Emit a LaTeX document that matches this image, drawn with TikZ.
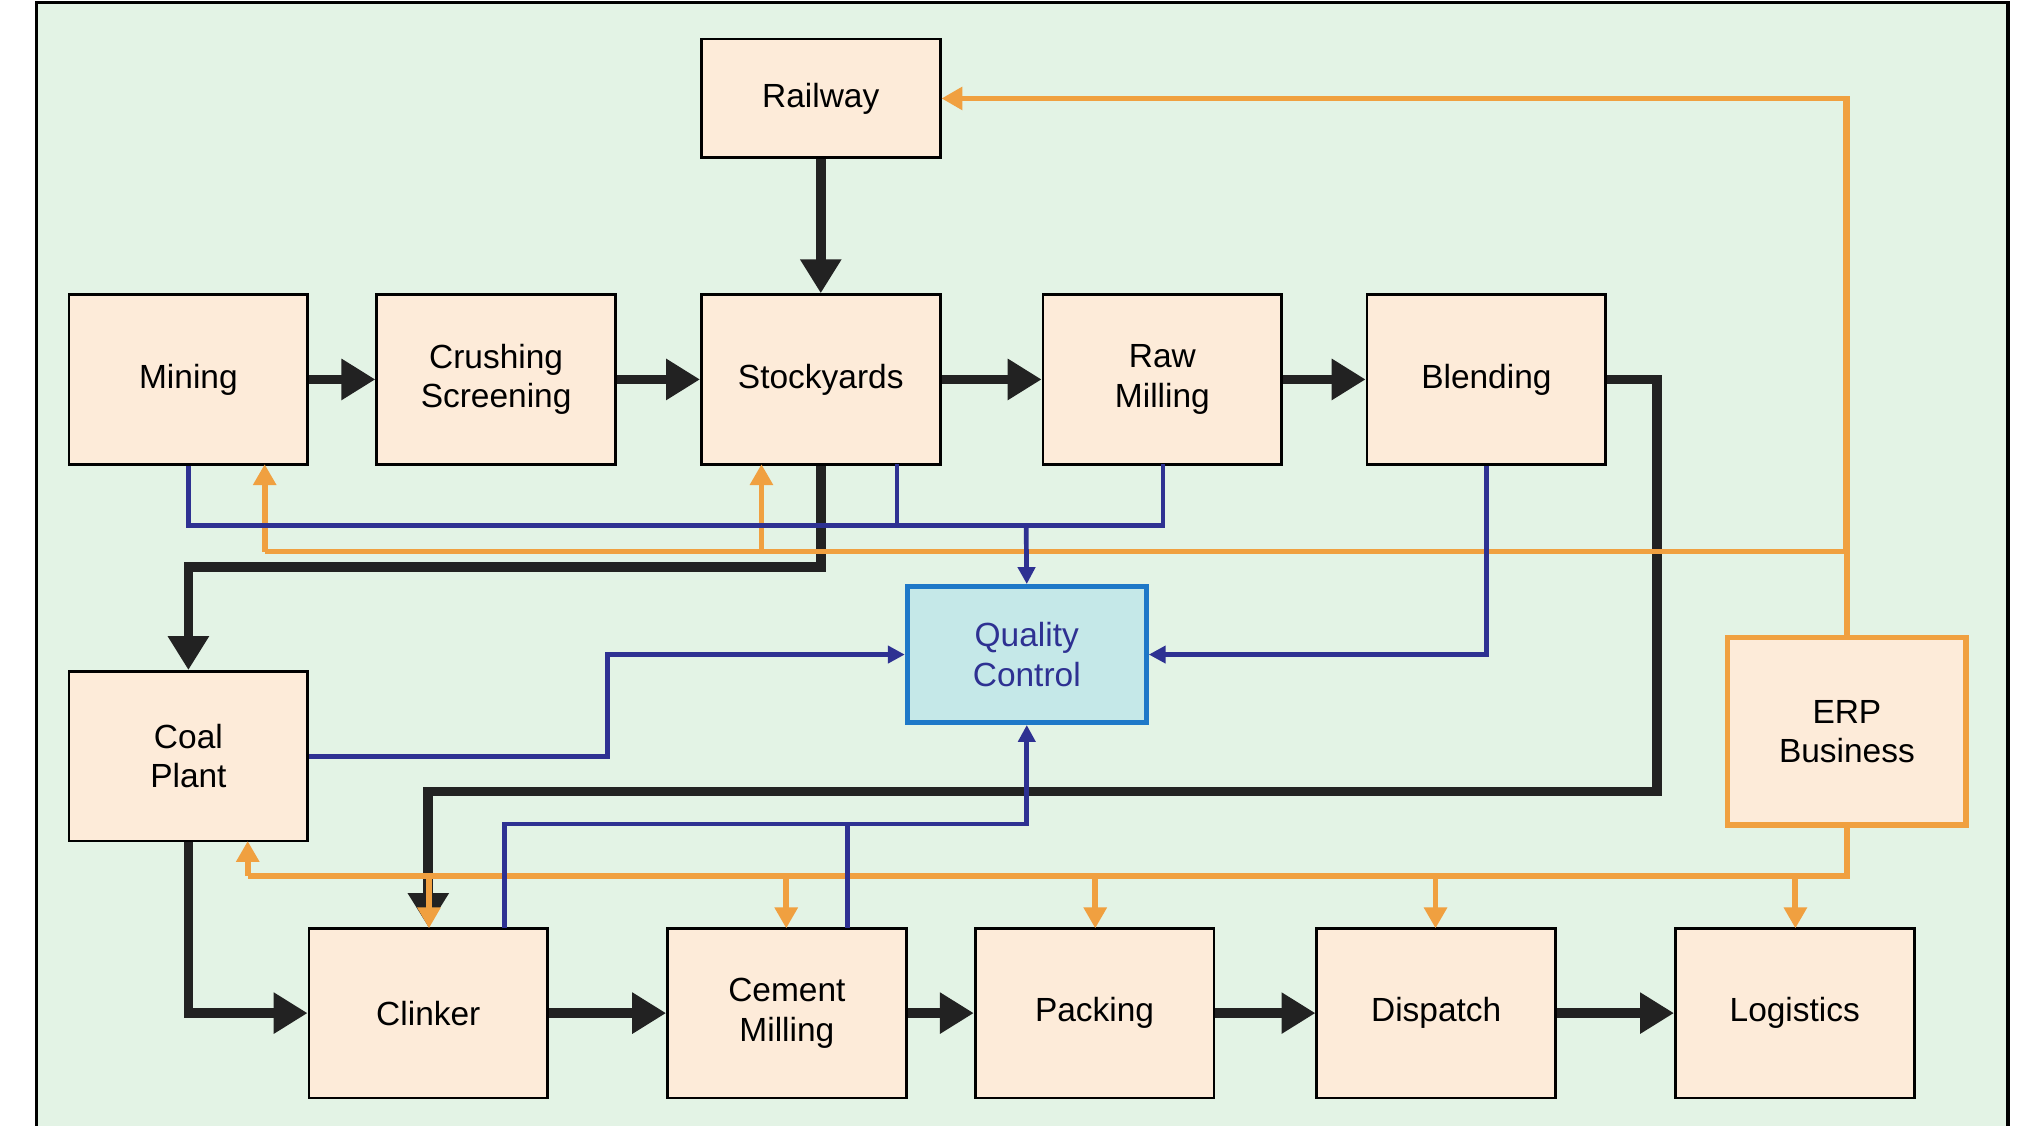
\documentclass[tikz,border=0pt]{standalone}
\usepackage{fontspec}
\setmainfont{Liberation Sans}
\usetikzlibrary{arrows.meta}
\definecolor{bg}{HTML}{E3F3E5}
\definecolor{boxf}{HTML}{FDEBD9}
\definecolor{qcf}{HTML}{C5E8E8}
\definecolor{qcb}{HTML}{1E78C8}
\definecolor{org}{HTML}{F0A040}
\definecolor{blu}{HTML}{2E3192}
\definecolor{blk}{HTML}{222222}
\begin{document}
\begin{tikzpicture}[x=0.01cm,y=-0.01cm,
  box/.style={draw=black,line width=0.6pt,fill=boxf,minimum width=1.83cm,minimum height=1.3cm,align=center,font=\fontsize{7.3}{8.6}\selectfont,inner sep=0pt},
  blkl/.style={draw=blk,line width=0.075cm,-{Triangle[length=2.6mm,width=3mm]}},
  blkn/.style={draw=blk,line width=0.075cm},
  blul/.style={draw=blu,line width=0.036cm,-{Triangle[length=1.3mm,width=1.3mm]}},
  blun/.style={draw=blu,line width=0.036cm},
  orgl/.style={draw=org,line width=0.045cm,-{Triangle[length=1.6mm,width=1.7mm]}},
  orgn/.style={draw=org,line width=0.045cm}]
\useasboundingbox (0,0) rectangle (1560,863);
\fill[white] (0,0) rectangle (1560,863);
\draw[fill=bg,line width=0.8pt] (28,2) rectangle (1540,880);
\node[box,minimum height=0.91cm] (rail) at (629.5,75.5) {Railway};
\node[box] (mine) at (144.5,291) {Mining};
\node[box] (crush) at (380.5,291) {Crushing\\Screening};
\node[box] (stock) at (629.5,291) {Stockyards};
\node[box] (raw) at (891.5,291) {Raw\\Milling};
\node[box] (blend) at (1140,291) {Blending};
\node[box] (coal) at (144.5,580) {Coal\\Plant};
\node[box,draw=qcb,line width=0.04cm,fill=qcf,text=blu,minimum width=1.83cm,minimum height=1.04cm] (qc) at (787.5,502) {Quality\\Control};
\node[box,draw=org,line width=0.045cm,minimum width=1.83cm,minimum height=1.44cm] (erp) at (1416.5,561) {ERP\\Business};
\node[box] (clink) at (328.5,777) {Clinker};
\node[box] (cem) at (603.5,777) {Cement\\Milling};
\node[box] (pack) at (839.5,777) {Packing};
\node[box] (disp) at (1101.5,777) {Dispatch};
\node[box] (logi) at (1376.5,777) {Logistics};
% black flow
\draw[blkl] (rail) -- (stock);
\draw[blkl] (mine) -- (crush);
\draw[blkl] (crush) -- (stock);
\draw[blkl] (stock) -- (raw);
\draw[blkl] (raw) -- (blend);
\draw[blkl] (stock.south) -- (629.5,435) -| (coal.north);
\draw[blkl] (blend.east) -- (1271,291) -- (1271,607) -| (clink.north);
\draw[blkl] (coal.south) |- (clink.west);
\draw[blkl] (clink) -- (cem);
\draw[blkl] (cem) -- (pack);
\draw[blkl] (pack) -- (disp);
\draw[blkl] (disp) -- (logi);
% orange
\draw[orgl] (erp.north) |- (rail.east);
\draw[orgn] (1416,75) -- (1416,423) -- (203,423);
\draw[orgl] (203,423) -- (203,356);
\draw[orgl] (584,423) -- (584,356);
\draw[orgn] (erp.south) |- (190,672);
\draw[orgl] (190,672) -- (190,645);
\foreach \x in {329,603,840,1101,1377} \draw[orgl] (\x,672) -- (\x,712);
% blue
\draw[blun] (mine.south) |- (892,403) -- (892,356);
\draw[blun] (688,356) -- (688,403);
\draw[blul] (787,403) -- (qc.north);
\draw[blul] (blend.south) |- (qc.east);
\draw[blul] (coal.east) -- (466,580) |- (qc.west);
\draw[blun] (387,712) |- (650,632) -- (650,712);
\draw[blul] (650,632) -| (qc.south);
\end{tikzpicture}
\end{document}
